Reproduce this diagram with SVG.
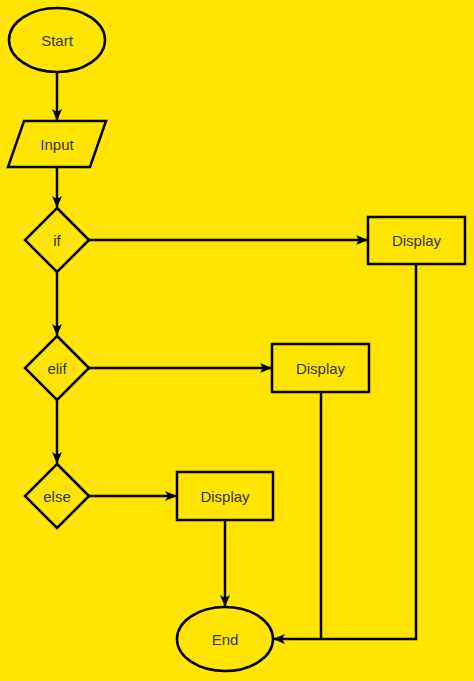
<svg xmlns="http://www.w3.org/2000/svg" width="474" height="681" viewBox="0 0 474 681">
<style>
.s{fill:#FFE500;stroke:#000;stroke-width:2.5}
.t{font-family:"Liberation Sans",Arial,sans-serif;font-size:15px;fill:#333;text-anchor:middle;dominant-baseline:central}
.c{fill:none;stroke:#000;stroke-width:2.5}
</style>
<defs>
<marker id="a" viewBox="0 0 12 10" refX="11" refY="5" markerWidth="12" markerHeight="10" markerUnits="userSpaceOnUse" orient="auto">
<path d="M0,0 L12,5 L0,10 L3,5 Z" fill="#000"/>
</marker>
</defs>
<rect width="474" height="681" fill="#FFE500"/>
<g id="connectors">
<line class="c" x1="57" y1="72" x2="57" y2="120" marker-end="url(#a)"/>
<line class="c" x1="57" y1="167" x2="57" y2="207" marker-end="url(#a)"/>
<line class="c" x1="57" y1="272" x2="57" y2="335" marker-end="url(#a)"/>
<line class="c" x1="57" y1="400" x2="57" y2="463" marker-end="url(#a)"/>
<line class="c" x1="89" y1="240" x2="367" y2="240" marker-end="url(#a)"/>
<line class="c" x1="89" y1="368" x2="271" y2="368" marker-end="url(#a)"/>
<line class="c" x1="89" y1="496" x2="176" y2="496" marker-end="url(#a)"/>
<line class="c" x1="225" y1="520" x2="225" y2="606" marker-end="url(#a)"/>
<polyline class="c" points="416,264 416,639 274,639" marker-end="url(#a)"/>
<line class="c" x1="321" y1="392" x2="321" y2="639"/>
</g>
<g id="start"><ellipse class="s" cx="57" cy="40" rx="48" ry="32"/><text class="t" x="57" y="40">Start</text></g>
<g id="input"><polygon class="s" points="24,121 106,121 90,167 8,167"/><text class="t" x="57" y="144">Input</text></g>
<g id="if"><polygon class="s" points="57,208 89,240 57,272 25,240"/><text class="t" x="57" y="240">if</text></g>
<g id="elif"><polygon class="s" points="57,336 89,368 57,400 25,368"/><text class="t" x="57" y="368">elif</text></g>
<g id="else"><polygon class="s" points="57,464 89,496 57,528 25,496"/><text class="t" x="57" y="496">else</text></g>
<g id="display1"><rect class="s" x="368" y="217" width="97" height="47"/><text class="t" x="416.5" y="240.5">Display</text></g>
<g id="display2"><rect class="s" x="272" y="344" width="97" height="48"/><text class="t" x="320.5" y="368">Display</text></g>
<g id="display3"><rect class="s" x="177" y="472" width="96" height="48"/><text class="t" x="225" y="496">Display</text></g>
<g id="end"><ellipse class="s" cx="225" cy="639" rx="48" ry="32"/><text class="t" x="225" y="639">End</text></g>
</svg>
